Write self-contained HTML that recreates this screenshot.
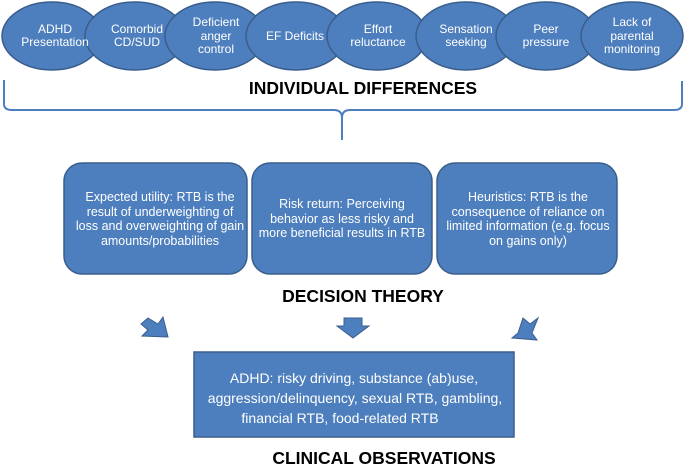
<!DOCTYPE html>
<html><head><meta charset="utf-8"><style>
html,body{margin:0;padding:0;background:#fff}
svg{display:block}
text{font-family:"Liberation Sans",sans-serif}
.w{fill:#fff;font-size:12px;text-anchor:middle}
.b{fill:#000;font-size:17.5px;font-weight:bold;text-anchor:middle}
</style></head><body>
<svg width="685" height="466" viewBox="0 0 685 466" xmlns="http://www.w3.org/2000/svg">
<g fill="#4d7ebd" stroke="#3a5e8c" stroke-width="1.5">
<ellipse cx="52" cy="36" rx="50" ry="34"/>
<ellipse cx="135" cy="36" rx="50" ry="34"/>
<ellipse cx="215" cy="36" rx="50" ry="34"/>
<ellipse cx="296" cy="36" rx="50" ry="34"/>
<ellipse cx="377" cy="36" rx="50" ry="34"/>
<ellipse cx="466" cy="36" rx="50" ry="34"/>
<ellipse cx="546" cy="36" rx="50" ry="34"/>
<ellipse cx="632" cy="36" rx="51" ry="34"/>
</g>
<g class="w">
<text x="55" y="33" class="w">ADHD</text><text x="55" y="46" class="w">Presentation</text>
<text x="137" y="33" class="w">Comorbid</text><text x="137" y="46" class="w">CD/SUD</text>
<text x="216" y="26" class="w">Deficient</text><text x="216" y="40" class="w">anger</text><text x="216" y="53" class="w">control</text>
<text x="295" y="40" class="w">EF Deficits</text>
<text x="378" y="33" class="w">Effort</text><text x="378" y="46" class="w">reluctance</text>
<text x="466" y="33" class="w">Sensation</text><text x="466" y="46" class="w">seeking</text>
<text x="546" y="33" class="w">Peer</text><text x="546" y="46" class="w">pressure</text>
<text x="632" y="26" class="w">Lack of</text><text x="632" y="40" class="w">parental</text><text x="632" y="53" class="w">monitoring</text>
</g>
<text x="363" y="94" class="b">INDIVIDUAL DIFFERENCES</text>
<path d="M4 80 L4 104 Q4 110 12 110 L334 110 Q342 110 342 118 L342 140 M342 118 Q342 110 350 110 L674 110 Q682 110 682 104 L682 81" fill="none" stroke="#4d7ebd" stroke-width="2"/>
<g fill="#4d7ebd" stroke="#3a5e8c" stroke-width="1.5">
<rect x="64" y="163" width="183" height="111" rx="18"/>
<rect x="252" y="163" width="180" height="111" rx="18"/>
<rect x="437" y="163" width="180" height="111" rx="18"/>
</g>
<g class="w" style="font-size:12.5px">
<text x="160" y="201" class="w" style="font-size:12.5px">Expected utility: RTB is the</text>
<text x="160" y="216" class="w" style="font-size:12.5px">result of underweighting of</text>
<text x="160" y="230" class="w" style="font-size:12.5px">loss and overweighting of gain</text>
<text x="160" y="245" class="w" style="font-size:12.5px">amounts/probabilities</text>
<text x="342" y="208" class="w" style="font-size:12.5px">Risk return: Perceiving</text>
<text x="342" y="223" class="w" style="font-size:12.5px">behavior as less risky and</text>
<text x="342" y="237" class="w" style="font-size:12.5px">more beneficial results in RTB</text>
<text x="528" y="201" class="w" style="font-size:12.5px">Heuristics: RTB is the</text>
<text x="528" y="216" class="w" style="font-size:12.5px">consequence of reliance on</text>
<text x="528" y="230" class="w" style="font-size:12.5px">limited information (e.g. focus</text>
<text x="528" y="245" class="w" style="font-size:12.5px">on gains only)</text>
</g>
<text x="363" y="302" class="b">DECISION THEORY</text>
<g fill="#4d7ebd" stroke="#3a5e8c" stroke-width="1">
<polygon points="344,318 362,318 362,326 369,326 353,338 337,326 344,326"/>
<polygon points="148,318 158,324 163,317 168,337 142,336 148,330 141,324" />
<polygon points="523,318 530,324 538,318 532,333 537,340 512,338 518,333" transform="translate(0,0)"/>
</g>
<rect x="194" y="352" width="320" height="85" fill="#4d7ebd" stroke="#3a5e8c" stroke-width="1.5"/>
<text x="354" y="383" class="w" style="font-size:14px">ADHD: risky driving, substance (ab)use,</text>
<text x="355" y="403" class="w" style="font-size:14px">aggression/delinquency, sexual RTB, gambling,</text>
<text x="340" y="423" class="w" style="font-size:14px">financial RTB, food-related RTB</text>
<text x="384" y="464" class="b">CLINICAL OBSERVATIONS</text>
</svg>
</body></html>
